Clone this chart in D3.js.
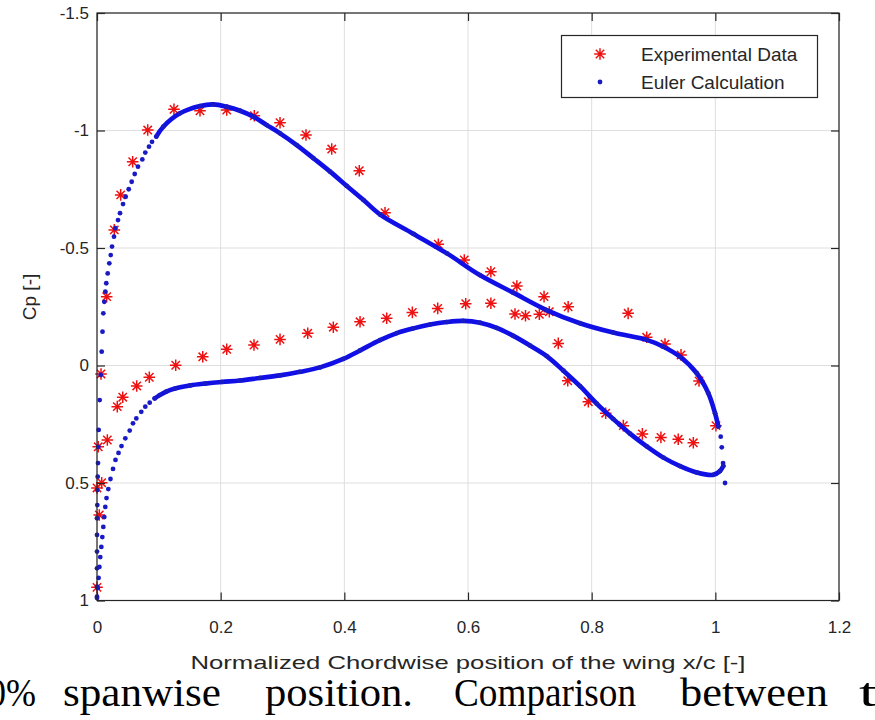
<!DOCTYPE html>
<html>
<head>
<meta charset="utf-8">
<script src="https://cdn.jsdelivr.net/npm/d3@7/dist/d3.min.js"></script>
<style>
    body { margin: 0; background: #ffffff; }
    svg { display: block; }
</style>
</head>
<body>
<svg id="chart" width="875" height="720"></svg>
<script>

// experimental data (leading edge taps + upper surface)
var expUpperX = [0, 0.0037, 0, 0.0076, 0.002, 0.0167, 0.0065, 0.0157, 0.028, 0.0383, 0.0577, 0.082,
    0.1245, 0.1666, 0.2098, 0.2544, 0.296, 0.338, 0.3796, 0.4242, 0.4658, 0.552, 0.594, 0.637,
    0.679, 0.723, 0.762, 0.859, 0.889, 0.9186, 0.9445, 0.9736, 1.001];
var expUpperCp = [0.944, 0.636, 0.521, 0.499, 0.346, 0.317, 0.036, -0.293, -0.577, -0.726, -0.867, -1.002,
    -1.090, -1.084, -1.087, -1.063, -1.033, -0.981, -0.921, -0.829, -0.650, -0.516, -0.449, -0.399,
    -0.338, -0.293, -0.250, -0.222, -0.120, -0.091, -0.045, 0.066, 0.256];

// experimental data (lower surface)
var expLowerX = [0.0328, 0.0416, 0.0642, 0.0846, 0.1273, 0.171, 0.2098, 0.2539, 0.296, 0.3408, 0.3822,
    0.4254, 0.4685, 0.510, 0.551, 0.5963, 0.637, 0.676, 0.693, 0.7154, 0.7315, 0.746, 0.7613, 0.7946,
    0.8227, 0.8512, 0.882, 0.912, 0.940, 0.9644];
var expLowerCp = [0.175, 0.135, 0.087, 0.050, -0.001, -0.037, -0.069, -0.087, -0.111, -0.137, -0.163,
    -0.186, -0.201, -0.226, -0.243, -0.263, -0.265, -0.219, -0.212, -0.218, -0.229, -0.094, 0.065, 0.154,
    0.203, 0.256, 0.291, 0.306, 0.314, 0.329];

// euler calculation, upper surface (trailing edge -> leading edge)
var eulerUpperX = [1.0157, 1.0125, 1.0104, 1.0087, 1.0049, 0.9995, 0.9887, 0.970, 0.943, 0.916, 0.889,
    0.835, 0.781, 0.727, 0.673, 0.619, 0.566, 0.512, 0.458, 0.431, 0.404, 0.377, 0.350, 0.323, 0.296,
    0.2745, 0.2528, 0.2313, 0.2098, 0.188, 0.1666, 0.1342, 0.1072, 0.0959, 0.089, 0.0841, 0.0781, 0.0733,
    0.0663, 0.061, 0.0561, 0.0513, 0.0464, 0.0421, 0.0372, 0.034, 0.0296, 0.0275, 0.0243, 0.0222, 0.0199,
    0.0173, 0.015, 0.0134, 0.0118, 0.0102, 0.0089, 0.0076, 0.006, 0.0044, 0.0027, 0.0021, 0.0016, 0.0011,
    0.0005, 0.0005, 0, 0, 0, 0, 0, 0];
var eulerUpperCp = [0.500, 0.415, 0.348, 0.303, 0.260, 0.203, 0.118, 0.033, -0.037, -0.080, -0.109,
    -0.140, -0.180, -0.236, -0.310, -0.385, -0.477, -0.560, -0.642, -0.704, -0.764, -0.825, -0.882, -0.938, -0.988,
    -1.023, -1.059, -1.084, -1.101, -1.111, -1.104, -1.073, -1.016, -0.974, -0.952, -0.931, -0.906, -0.877,
    -0.846, -0.815, -0.782, -0.750, -0.718, -0.687, -0.648, -0.619, -0.584, -0.548, -0.506, -0.470, -0.435,
    -0.392, -0.350, -0.314, -0.271, -0.222, -0.144, -0.059, 0.040, 0.147, 0.274, 0.346, 0.415, 0.473,
    0.530, 0.594, 0.650, 0.721, 0.792, 0.863, 0.941, 0.984];

// euler calculation, lower surface (leading edge -> trailing edge)
var eulerLowerX = [0, 0.0013, 0.0026, 0.0039, 0.0053, 0.007, 0.0086, 0.0102, 0.0118, 0.0134, 0.0154,
    0.0183, 0.0218, 0.0259, 0.0299, 0.0348, 0.0396, 0.0458, 0.0529, 0.0582, 0.0636, 0.0716, 0.0781, 0.0852,
    0.0933, 0.1014, 0.1121, 0.1262, 0.1504, 0.1747, 0.2022, 0.2313, 0.2636, 0.296, 0.3283, 0.3607, 0.3983,
    0.4254, 0.4577, 0.485, 0.5116, 0.5386, 0.5656, 0.5924, 0.6194, 0.6464, 0.6733, 0.7003, 0.7273, 0.7543,
    0.7812, 0.8081, 0.835, 0.862, 0.889, 0.916, 0.9429, 0.9699, 0.9968, 1.0076, 1.0129];
var eulerLowerCp = [0.989, 0.947, 0.904, 0.857, 0.815, 0.772, 0.730, 0.687, 0.645, 0.602, 0.564,
    0.526, 0.483, 0.440, 0.402, 0.372, 0.343, 0.310, 0.277, 0.246, 0.225, 0.197, 0.175, 0.158,
    0.140, 0.126, 0.111, 0.098, 0.085, 0.077, 0.070, 0.064, 0.053, 0.042, 0.027, 0.008, -0.028,
    -0.064, -0.108, -0.138, -0.158, -0.174, -0.185, -0.190, -0.182, -0.160, -0.126, -0.085, -0.040, 0.022,
    0.088, 0.162, 0.228, 0.290, 0.344, 0.392, 0.428, 0.455, 0.465, 0.449, 0.428];

// index ranges where the euler points are so close they merge into a line
var upperDense = [4, 34];
var lowerDense = [24, 61];

var xTicks = [0, 0.2, 0.4, 0.6, 0.8, 1, 1.2];
var yTicks = [-1.5, -1, -0.5, 0, 0.5, 1];
var legendLabels = ["Experimental Data", "Euler Calculation"];
var xLabel = "Normalized Chordwise position of the wing x/c [-]";
var yLabel = "Cp [-]";
var captionWords = ["0%", "spanwise", "position.", "Comparison", "between", "t"];

var textColor = "#262626";
var font = "'Liberation Sans', Arial, Helvetica, sans-serif";

var svg = d3.select("#chart");

// plot area (window.top is reserved, so use other names)
var plotLeft = 97, plotRight = 839, plotTop = 13, plotBottom = 600.5;

var x = d3.scaleLinear().domain([0, 1.2]).range([plotLeft, plotRight]);
var y = d3.scaleLinear().domain([-1.5, 1]).range([plotTop, plotBottom]);

function zip(xs, ys) {
    return xs.map(function(d, i) { return {x: d, y: ys[i]}; });
}

var expPoints = zip(expUpperX, expUpperCp).concat(zip(expLowerX, expLowerCp));
var upperPoints = zip(eulerUpperX, eulerUpperCp);
var lowerPoints = zip(eulerLowerX, eulerLowerCp);

// grid
var grid = svg.append("g").attr("class", "grid");

grid.selectAll("line.vgrid")
    .data(xTicks)
    .enter().append("line")
    .attr("x1", function(d) { return x(d); })
    .attr("x2", function(d) { return x(d); })
    .attr("y1", plotTop)
    .attr("y2", plotBottom)
    .attr("stroke", "#dedede")
    .attr("stroke-width", 1);

grid.selectAll("line.hgrid")
    .data(yTicks)
    .enter().append("line")
    .attr("x1", plotLeft)
    .attr("x2", plotRight)
    .attr("y1", function(d) { return y(d); })
    .attr("y2", function(d) { return y(d); })
    .attr("stroke", "#dedede")
    .attr("stroke-width", 1);

// asterisk marker like matlab '*'
function starPath(s) {
    var d = s * 0.72;
    return "M" + (-s) + ",0L" + s + ",0" +
        "M0," + (-s) + "L0," + s +
        "M" + (-d) + "," + (-d) + "L" + d + "," + d +
        "M" + (-d) + "," + d + "L" + d + "," + (-d);
}

// experimental data
svg.append("g").selectAll("path.star")
    .data(expPoints)
    .enter().append("path")
    .attr("class", "star")
    .attr("d", starPath(5.8))
    .attr("transform", function(d) {
        return "translate(" + x(d.x) + "," + y(d.y) + ")";
    })
    .attr("fill", "none")
    .attr("stroke", "#ee1111")
    .attr("stroke-width", 1.5);

// euler calculation: merged part drawn as a thick run of dots
var line = d3.line()
    .x(function(d) { return x(d.x); })
    .y(function(d) { return y(d.y); })
    .curve(d3.curveCatmullRom);

var euler = svg.append("g");

euler.append("path")
    .attr("d", line(upperPoints.slice(upperDense[0], upperDense[1])))
    .attr("fill", "none")
    .attr("stroke", "#1010e6")
    .attr("stroke-width", 4.6)
    .attr("stroke-linecap", "round");

euler.append("path")
    .attr("d", line(lowerPoints.slice(lowerDense[0], lowerDense[1])))
    .attr("fill", "none")
    .attr("stroke", "#1010e6")
    .attr("stroke-width", 4.6)
    .attr("stroke-linecap", "round");

euler.selectAll("circle")
    .data(upperPoints.concat(lowerPoints))
    .enter().append("circle")
    .attr("cx", function(d) { return x(d.x); })
    .attr("cy", function(d) { return y(d.y); })
    .attr("r", 2.4)
    .attr("fill", "#1a1ac4");

// axes box
svg.append("rect")
    .attr("x", plotLeft)
    .attr("y", plotTop)
    .attr("width", plotRight - plotLeft)
    .attr("height", plotBottom - plotTop)
    .attr("fill", "none")
    .attr("stroke", textColor)
    .attr("stroke-width", 1.2);

var fmt = function(d) { return String(d); };

var xAxis = svg.append("g")
    .attr("transform", "translate(0," + plotBottom + ")")
    .call(d3.axisBottom(x).tickValues(xTicks).tickFormat(fmt).tickSizeInner(-8).tickSizeOuter(0).tickPadding(20));

var yAxis = svg.append("g")
    .attr("transform", "translate(" + plotLeft + ",0)")
    .call(d3.axisLeft(y).tickValues(yTicks).tickFormat(fmt).tickSizeInner(-8).tickSizeOuter(0).tickPadding(8));

var topAxis = svg.append("g")
    .attr("transform", "translate(0," + plotTop + ")")
    .call(d3.axisTop(x).tickValues(xTicks).tickFormat("").tickSizeInner(-8).tickSizeOuter(0));

var rightAxis = svg.append("g")
    .attr("transform", "translate(" + plotRight + ",0)")
    .call(d3.axisRight(y).tickValues(yTicks).tickFormat("").tickSizeInner(-8).tickSizeOuter(0));

[xAxis, yAxis, topAxis, rightAxis].forEach(function(a) {
    a.select(".domain").remove();
    a.selectAll(".tick line").attr("stroke", textColor).attr("stroke-width", 1.2);
    a.selectAll(".tick text")
        .attr("fill", textColor)
        .style("font-family", font)
        .style("font-size", "17px");
});

// axis labels
svg.append("text")
    .attr("x", 468)
    .attr("y", 669)
    .attr("text-anchor", "middle")
    .attr("textLength", 555)
    .attr("lengthAdjust", "spacingAndGlyphs")
    .attr("fill", textColor)
    .style("font-family", font)
    .style("font-size", "19px")
    .text(xLabel);

svg.append("text")
    .attr("transform", "translate(36,297) rotate(-90)")
    .attr("text-anchor", "middle")
    .attr("fill", textColor)
    .style("font-family", font)
    .style("font-size", "19px")
    .text(yLabel);

// legend
var legend = svg.append("g");

legend.append("rect")
    .attr("x", 561.5)
    .attr("y", 35.5)
    .attr("width", 256)
    .attr("height", 62)
    .attr("fill", "#ffffff")
    .attr("stroke", textColor)
    .attr("stroke-width", 1.2);

var rows = legend.selectAll("g.row")
    .data(legendLabels)
    .enter().append("g")
    .attr("class", "row")
    .attr("transform", function(d, i) { return "translate(0," + (54 + i * 28) + ")"; });

rows.append("text")
    .attr("x", 641)
    .attr("dy", "0.35em")
    .attr("fill", textColor)
    .style("font-family", font)
    .style("font-size", "19px")
    .text(function(d) { return d; });

rows.filter(function(d, i) { return i == 0; })
    .append("path")
    .attr("d", starPath(5.8))
    .attr("transform", "translate(600,0)")
    .attr("fill", "none")
    .attr("stroke", "#ee1111")
    .attr("stroke-width", 1.5);

rows.filter(function(d, i) { return i == 1; })
    .append("circle")
    .attr("cx", 600)
    .attr("r", 2.4)
    .attr("fill", "#1a1ac4");

// caption of the page below the figure, cut at the borders
var captionX = [-12, 63, 265, 454, 680, 859];
var captionW = [48, 158, 148, 182, 148, 18];

svg.append("g").selectAll("text")
    .data(captionWords)
    .enter().append("text")
    .attr("x", function(d, i) { return captionX[i]; })
    .attr("y", 706)
    .attr("textLength", function(d, i) { return captionW[i]; })
    .attr("lengthAdjust", "spacingAndGlyphs")
    .attr("fill", "#000000")
    .style("font-family", "'Liberation Serif', 'Times New Roman', serif")
    .style("font-size", "41px")
    .text(function(d) { return d; });

</script>
</body>
</html>
